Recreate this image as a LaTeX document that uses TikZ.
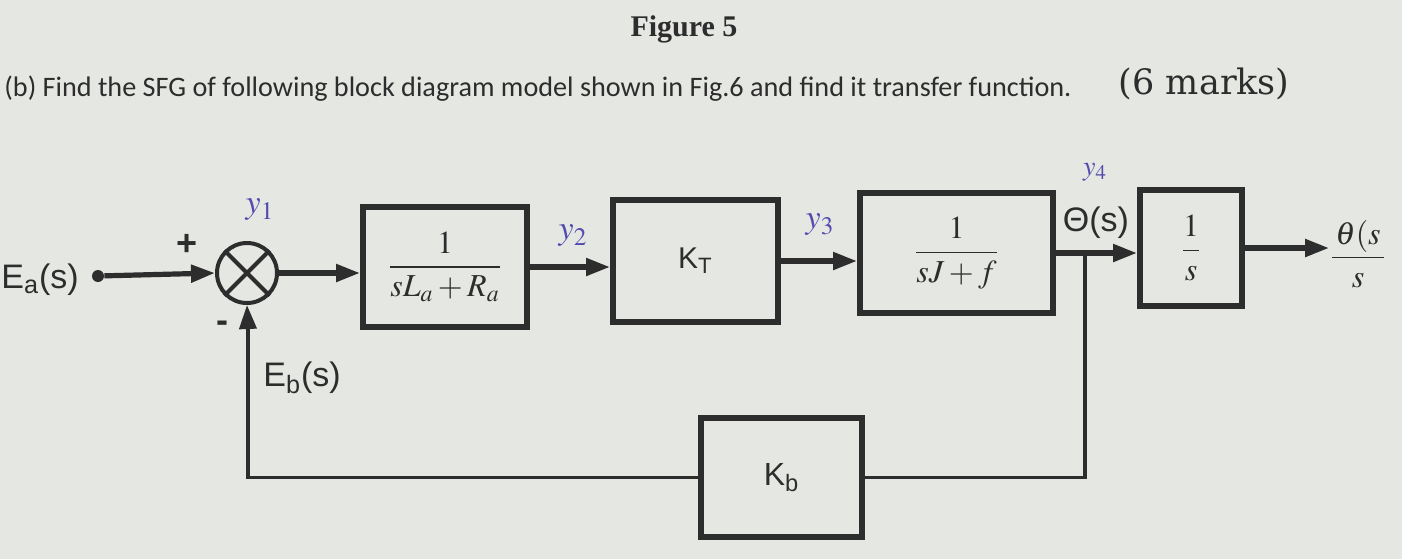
\documentclass[tikz,border=0pt]{standalone}
\usepackage{amsmath}
\usepackage{mathptmx}
\usepackage{fontspec}
\setmainfont{Liberation Serif}
\setsansfont{Liberation Sans}
\newfontfamily\calib{Carlito}
\newfontfamily\wideserif{DejaVu Serif}
\usetikzlibrary{arrows.meta,calc}
\definecolor{bgc}{RGB}{229,231,227}
\definecolor{ink}{RGB}{45,45,45}
\definecolor{pen}{RGB}{85,75,175}
\tikzset{
  blk/.style={draw=ink,line width=3pt,inner sep=0pt},
  sumj/.style={circle,draw=ink,line width=2pt,minimum size=30pt,inner sep=0pt},
  sig/.style={draw=ink,line width=2.6pt,-{Triangle[length=12pt,width=8.5pt]}},
  fb/.style={draw=ink,line width=1.8pt},
  lbl/.style={text=ink,font=\sffamily\fontsize{17}{20}\selectfont,inner sep=0pt},
  hand/.style={text=pen,inner sep=0pt,font=\fontsize{17}{20}\selectfont},
  mfrac/.style={text=ink,font=\fontsize{16}{19}\selectfont}
}
\begin{document}
\begin{tikzpicture}[x=0.5pt,y=-0.5pt]
\fill[bgc] (0,0) rectangle (1402,559);
\useasboundingbox (0,0) rectangle (1402,559);
% header
\node[text=ink,font=\bfseries\fontsize{15}{18}\selectfont,anchor=base] (fig) at (684,36) {Figure 5};
\node[text=ink,font=\calib\fontsize{14.1}{16}\selectfont,anchor=base west,inner sep=0pt] (q) at (4,96) {(b) Find the SFG of following block diagram model shown in Fig.6 and find it transfer function.};
\node[text=ink,font=\wideserif\fontsize{17.5}{20}\selectfont,anchor=base east,inner sep=0pt] (mk) at (1290,94) {(6 marks)};
% blocks
\node[blk,minimum width=82pt,minimum height=60pt,mfrac] (b1) at (445,267) {$\dfrac{1}{sL_a+R_a}$};
\node[blk,minimum width=82.5pt,minimum height=61pt,lbl,font=\sffamily\fontsize{15}{18}\selectfont] (b2) at (695.5,261) {K\textsubscript{T}};
\node[blk,minimum width=96.5pt,minimum height=60pt,mfrac] (b3) at (956.5,253) {$\dfrac{1}{sJ+f}$};
\node[blk,minimum width=51pt,minimum height=58pt,mfrac] (b4) at (1191,248) {$\dfrac{1}{s}$};
\node[blk,minimum width=80.5pt,minimum height=59.5pt,lbl,font=\sffamily\fontsize{16}{19}\selectfont] (kb) at (781.5,477.5) {K\textsubscript{b}};
\node[sumj] (sum) at (247,273) {};
\draw[ink,line width=2pt] (sum.north east) -- (sum.south west) (sum.north west) -- (sum.south east);
\node[mfrac,inner sep=0pt] (out) at (1358,254) {$\dfrac{\,\theta(s\,}{s}$};
% input
\node[lbl] (ea) at (40,280) {E\textsubscript{a}(s)};
\node[circle,fill=ink,minimum size=6pt,inner sep=0pt] (dot) at (98,276) {};
\node[text=ink,font=\sffamily\bfseries\fontsize{18}{20}\selectfont,inner sep=0pt] (plus) at (187,245) {+};
\node[text=ink,font=\sffamily\bfseries\fontsize{18}{20}\selectfont,inner sep=0pt] (minus) at (222,327) {-};
\node[lbl] (eb) at (302,378) {E\textsubscript{b}(s)};
\node[lbl] (th) at (1096,223) {Θ(s)};
% connectors
\draw[sig] (dot) -- (sum.west);
\draw[sig] (sum.east) -- (sum.east -| b1.west);
\draw[sig] (b1.east) -- (b1.east -| b2.west);
\draw[sig] (b2.east) -- (b2.east -| b3.west);
\draw[sig] (b3.east) -- (b3.east -| b4.west);
\draw[sig] (b4.east) -- (b4.east -| out.west);
\coordinate (br) at (1085,253);
\coordinate (fbup) at (248,330);
\draw[fb] (br) |- (kb.east);
\draw[fb] (kb.west) -| (fbup);
\draw[sig,line width=2pt] (fbup) -- (sum.south);
% handwritten annotations
\node[hand] (y1) at (260,210) {$y_{1}$};
\node[hand] (y2) at (573,236) {$y_{2}$};
\node[hand] (y3) at (820,225) {$y_{3}$};
\node[hand,font=\fontsize{14}{16}\selectfont] (y4) at (1095,172) {$y_{4}$};
\end{tikzpicture}
\end{document}
